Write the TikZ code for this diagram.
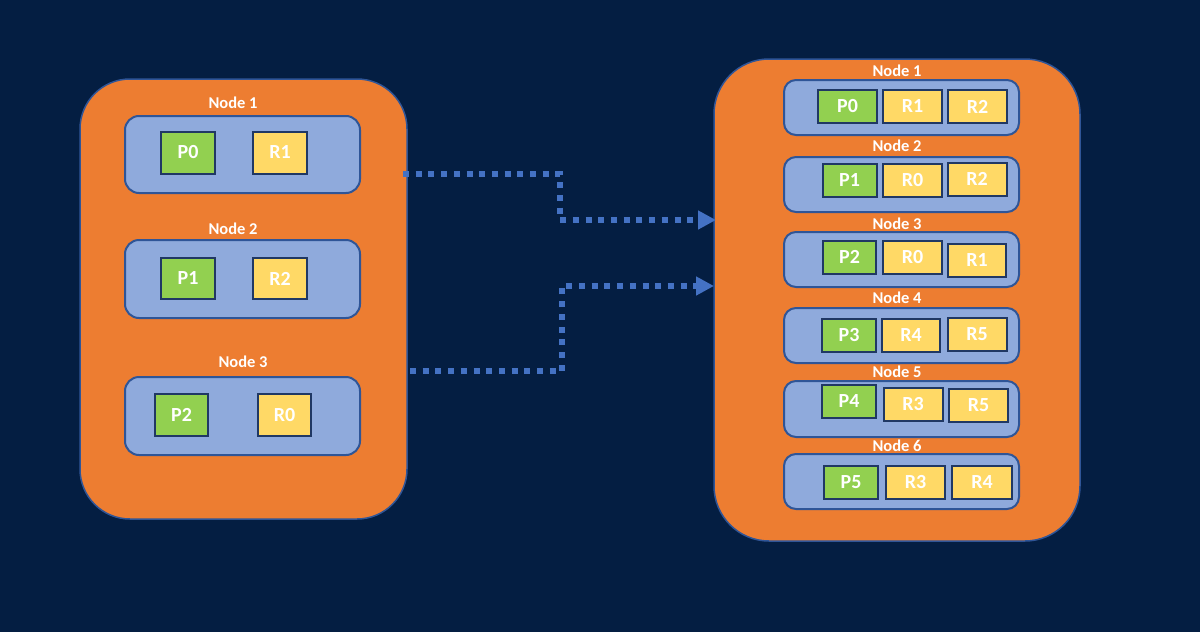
\documentclass[tikz,border=0pt]{standalone}
\usepackage{fontspec}
\setmainfont{Carlito}
\usetikzlibrary{arrows.meta}
\definecolor{bg}{RGB}{4,30,66}
\definecolor{orangefill}{RGB}{237,125,49}
\definecolor{bluebox}{RGB}{143,170,220}
\definecolor{boxedge}{RGB}{47,85,151}
\definecolor{celledge}{RGB}{32,56,100}
\definecolor{greencell}{RGB}{146,208,80}
\definecolor{yellowcell}{RGB}{255,217,102}
\definecolor{conncol}{RGB}{68,114,196}
\begin{document}
\begin{tikzpicture}[x=1pt,y=-1pt,
  bigbox/.style={draw=boxedge, line width=1.5pt, fill=orangefill, inner sep=0pt, outer sep=0pt},
  innerbox/.style={draw=boxedge, line width=2pt, fill=bluebox, inner sep=0pt, outer sep=0pt},
  cell/.style={draw=celledge, line width=2pt, inner sep=0pt, outer sep=0pt, text=white, font=\fontsize{20}{22}\selectfont\bfseries},
  pcell/.style={cell, fill=greencell},
  rcell/.style={cell, fill=yellowcell},
  lbl/.style={text=white, font=\fontsize{16.5}{18}\selectfont\bfseries, inner sep=0pt},
  conn/.style={draw=conncol, line width=6pt, dash pattern=on 6pt off 6.7pt, -{Triangle[length=18pt,width=18pt]}}
]
\useasboundingbox (0,0) rectangle (1200,632);
\fill[bg] (0,0) rectangle (1200,632);

% Left big box
\node[bigbox, rounded corners=50pt, minimum width=327pt, minimum height=440pt] (leftbig) at (243.5,299) {};
\node[lbl] (lt1) at (233,103) {Node 1};
\node[innerbox, rounded corners=14pt, minimum width=235pt, minimum height=77pt] (lb1) at (242.5,154.5) {};
\node[pcell, minimum width=54pt, minimum height=42pt] (lp0) at (188,152.5) {P0};
\node[rcell, minimum width=54pt, minimum height=42pt] (lr1) at (280,152.5) {R1};

\node[lbl] (lt2) at (233,229) {Node 2};
\node[innerbox, rounded corners=14pt, minimum width=235pt, minimum height=78pt] (lb2) at (242.5,279) {};
\node[pcell, minimum width=54pt, minimum height=41pt] (lp1) at (188,278.5) {P1};
\node[rcell, minimum width=54pt, minimum height=41pt] (lr2) at (280,278.5) {R2};

\node[lbl] (lt3) at (243,362) {Node 3};
\node[innerbox, rounded corners=14pt, minimum width=235pt, minimum height=78pt] (lb3) at (242.5,416) {};
\node[pcell, minimum width=53pt, minimum height=42pt] (lp2) at (181.5,415) {P2};
\node[rcell, minimum width=53pt, minimum height=42pt] (lr0) at (284.5,415) {R0};

% Right big box
\node[bigbox, rounded corners=55pt, minimum width=366pt, minimum height=482pt] (rightbig) at (897,300) {};

\node[lbl] (rt1) at (897,71) {Node 1};
\node[innerbox, rounded corners=12pt, minimum width=235pt, minimum height=55pt] (rb1) at (901.5,107.5) {};
\node[pcell, minimum width=59pt, minimum height=33pt] (r1p0) at (847.5,106.5) {P0};
\node[rcell, minimum width=59pt, minimum height=33pt] (r1r1) at (912.5,106.5) {R1};
\node[rcell, minimum width=59pt, minimum height=33pt] (r1r2) at (977.5,106.5) {R2};

\node[lbl] (rt2) at (897,146) {Node 2};
\node[innerbox, rounded corners=12pt, minimum width=235pt, minimum height=55pt] (rb2) at (901.5,184.5) {};
\node[pcell, minimum width=54pt, minimum height=33pt] (r2p1) at (849.5,180) {P1};
\node[rcell, minimum width=59pt, minimum height=33pt] (r2r0) at (912.5,180) {R0};
\node[rcell, minimum width=59pt, minimum height=33pt] (r2r2) at (977,179) {R2};

\node[lbl] (rt3) at (897,224) {Node 3};
\node[innerbox, rounded corners=12pt, minimum width=235pt, minimum height=55pt] (rb3) at (901.5,259.5) {};
\node[pcell, minimum width=53pt, minimum height=33pt] (r3p2) at (849.5,257) {P2};
\node[rcell, minimum width=59pt, minimum height=33pt] (r3r0) at (912.5,257) {R0};
\node[rcell, minimum width=58pt, minimum height=33pt] (r3r1) at (977,260) {R1};

\node[lbl] (rt4) at (897,298) {Node 4};
\node[innerbox, rounded corners=12pt, minimum width=235pt, minimum height=55pt] (rb4) at (901.5,335.5) {};
\node[pcell, minimum width=54pt, minimum height=33pt] (r4p3) at (849,335.5) {P3};
\node[rcell, minimum width=58pt, minimum height=33pt] (r4r4) at (911,335.5) {R4};
\node[rcell, minimum width=59pt, minimum height=33pt] (r4r5) at (977,334) {R5};

\node[lbl] (rt5) at (897,372) {Node 5};
\node[innerbox, rounded corners=12pt, minimum width=235pt, minimum height=56pt] (rb5) at (901.5,409) {};
\node[pcell, minimum width=54pt, minimum height=33pt] (r5p4) at (849,401.5) {P4};
\node[rcell, minimum width=59pt, minimum height=33pt] (r5r3) at (913,404.5) {R3};
\node[rcell, minimum width=59pt, minimum height=33pt] (r5r5) at (978.5,405) {R5};

\node[lbl] (rt6) at (897,446) {Node 6};
\node[innerbox, rounded corners=12pt, minimum width=235pt, minimum height=55pt] (rb6) at (901.5,481.5) {};
\node[pcell, minimum width=54pt, minimum height=33pt] (r6p5) at (851,482) {P5};
\node[rcell, minimum width=59pt, minimum height=33pt] (r6r3) at (915.5,482.5) {R3};
\node[rcell, minimum width=60pt, minimum height=33pt] (r6r4) at (982,482) {R4};

% Connectors
\coordinate (c1s) at (403,174);
\coordinate (c1m) at (560,174);
\coordinate (c1e) at (716,220);
\draw[conn] (c1s) -- (c1m) |- (c1e);
\coordinate (c2s) at (410,371);
\coordinate (c2m) at (562,371);
\coordinate (c2e) at (714,286);
\draw[conn] (c2s) -- (c2m) |- (c2e);
\end{tikzpicture}
\end{document}
